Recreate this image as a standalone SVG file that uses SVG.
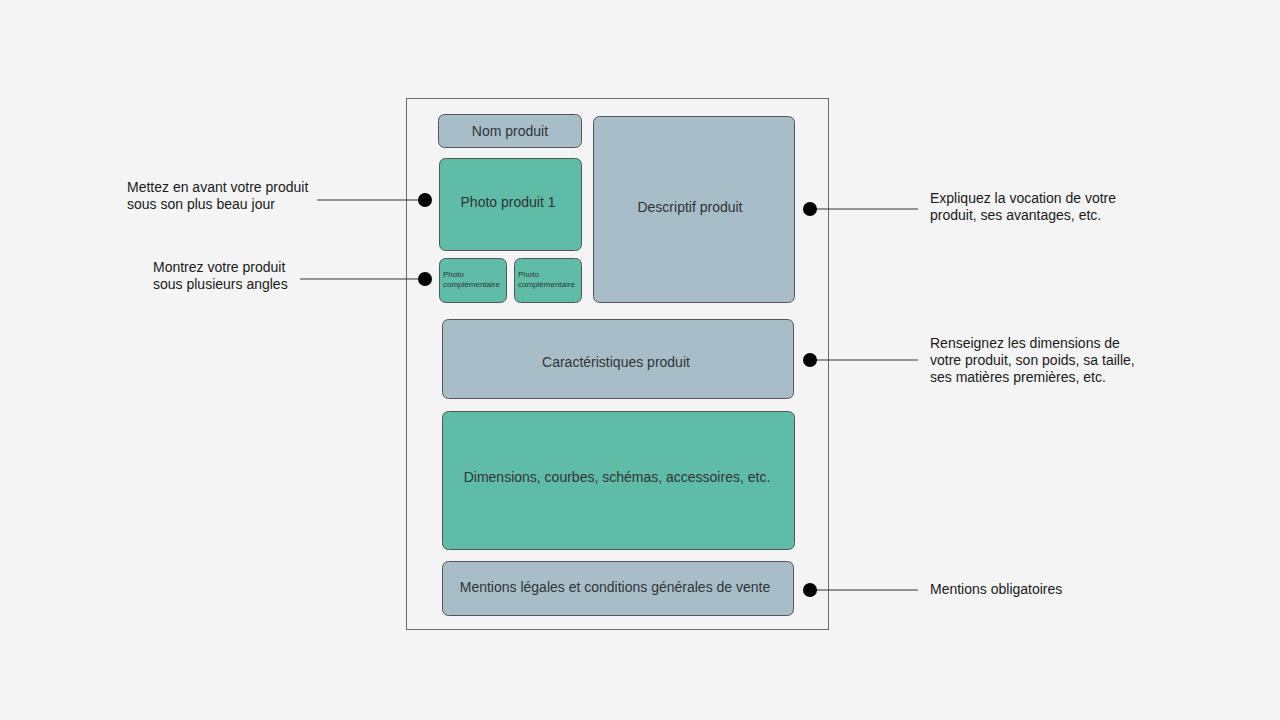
<svg xmlns="http://www.w3.org/2000/svg" width="1280" height="720" viewBox="0 0 1280 720">
<style>
.bg{fill:#f4f4f4}
.frame{fill:none;stroke:#6b6b6b;stroke-width:1}
.g{fill:#5ebca7;stroke:#555;stroke-width:1}
.b{fill:#a7bec8;stroke:#555;stroke-width:1}
.t{font-family:"Liberation Sans",Arial,sans-serif;font-size:14px;fill:#333}
.c{text-anchor:middle}
.s{font-family:"Liberation Sans",Arial,sans-serif;font-size:8px;fill:#333}
.n{font-family:"Liberation Sans",Arial,sans-serif;font-size:14px;fill:#1a1a1a}
.ln{stroke:#333;stroke-width:1}
.dot{fill:#000}
</style>
<rect class="bg" x="0" y="0" width="1280" height="720"/>
<rect class="frame" x="406.5" y="98.5" width="422" height="531"/>
<g id="nom-produit"><rect class="b" x="438.5" y="114.5" width="143" height="33" rx="6"/><text class="t c" x="510" y="136">Nom produit</text></g>
<g id="descriptif"><rect class="b" x="593.5" y="116.5" width="201" height="186" rx="6"/><text class="t c" x="690" y="212">Descriptif produit</text></g>
<g id="photo1"><rect class="g" x="439.5" y="158.5" width="142" height="92" rx="6"/><text class="t c" x="508" y="207">Photo produit 1</text></g>
<g id="photo-comp1"><rect class="g" x="439.5" y="258.5" width="67" height="44" rx="6"/><text class="s" x="443" y="277">Photo</text><text class="s" x="443" y="287">complémentaire</text></g>
<g id="photo-comp2"><rect class="g" x="514.5" y="258.5" width="67" height="44" rx="6"/><text class="s" x="518" y="277">Photo</text><text class="s" x="518" y="287">complémentaire</text></g>
<g id="caracteristiques"><rect class="b" x="442.5" y="319.5" width="351" height="79" rx="6"/><text class="t c" x="616" y="367">Caractéristiques produit</text></g>
<g id="dimensions"><rect class="g" x="442.5" y="411.5" width="352" height="138" rx="6"/><text class="t c" x="617" y="482">Dimensions, courbes, schémas, accessoires, etc.</text></g>
<g id="mentions"><rect class="b" x="442.5" y="561.5" width="351" height="54" rx="6"/><text class="t c" x="615" y="592">Mentions légales et conditions générales de vente</text></g>
<g id="connectors">
<line class="ln" x1="317" y1="200" x2="425" y2="200"/><circle class="dot" cx="425" cy="200" r="7"/>
<line class="ln" x1="300" y1="279" x2="425" y2="279"/><circle class="dot" cx="425" cy="279" r="7"/>
<line class="ln" x1="810" y1="209" x2="918" y2="209"/><circle class="dot" cx="810" cy="209" r="7"/>
<line class="ln" x1="810" y1="360" x2="918" y2="360"/><circle class="dot" cx="810" cy="360" r="7"/>
<line class="ln" x1="810" y1="590" x2="918" y2="590"/><circle class="dot" cx="810" cy="590" r="7"/>
</g>
<g id="note-photo1"><text class="n" x="127" y="192">Mettez en avant votre produit</text><text class="n" x="127" y="209">sous son plus beau jour</text></g>
<g id="note-photo2"><text class="n" x="153" y="272">Montrez votre produit</text><text class="n" x="153" y="289">sous plusieurs angles</text></g>
<g id="note-desc"><text class="n" x="930" y="203">Expliquez la vocation de votre</text><text class="n" x="930" y="220">produit, ses avantages, etc.</text></g>
<g id="note-carac"><text class="n" x="930" y="348">Renseignez les dimensions de</text><text class="n" x="930" y="365">votre produit, son poids, sa taille,</text><text class="n" x="930" y="382">ses matières premières, etc.</text></g>
<g id="note-mentions"><text class="n" x="930" y="594">Mentions obligatoires</text></g>
</svg>
